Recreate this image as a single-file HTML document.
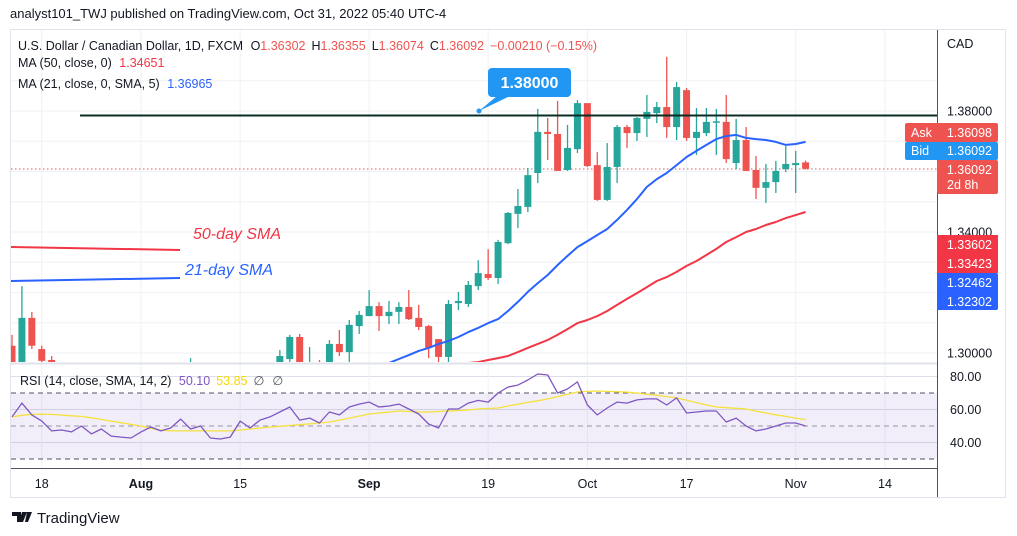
<!DOCTYPE html>
<html><head><meta charset="utf-8">
<style>
body{margin:0;background:#fff;width:1017px;height:536px;overflow:hidden;font-family:"Liberation Sans",sans-serif}
svg{position:absolute;left:0;top:0}
text{font-family:"Liberation Sans",sans-serif}
</style></head>
<body>
<svg id="chart" width="1017" height="536" viewBox="0 0 1017 536" xmlns="http://www.w3.org/2000/svg">
<text x="10" y="18" font-size="13" fill="#131722">analyst101_TWJ published on TradingView.com, Oct 31, 2022 05:40 UTC-4</text>
<rect x="10.5" y="29.5" width="995" height="468" fill="none" stroke="#e0e3eb"/>
<g id="grid"></g>
<rect x="11" y="393" width="926" height="66" fill="#7e57c2" fill-opacity="0.1"/>
<g id="rsiGuides"></g>
<line x1="11" y1="363.5" x2="937" y2="363.5" stroke="#e0e3eb" stroke-width="2"/>
<line x1="11" y1="468.5" x2="937" y2="468.5" stroke="#50535e"/>
<line x1="937.5" y1="30" x2="937.5" y2="497" stroke="#50535e"/>
<defs>
<clipPath id="mainClip"><rect x="11" y="30" width="926" height="332"/></clipPath>
<clipPath id="rsiClip"><rect x="11" y="365" width="926" height="102"/></clipPath>
</defs>
<line x1="11" y1="169" x2="937" y2="169" stroke="#ef5350" stroke-dasharray="1.5,2.5"/>
<g id="main" clip-path="url(#mainClip)"></g>
<g id="rsi" clip-path="url(#rsiClip)"></g>
<line x1="80" y1="115.5" x2="937" y2="115.5" stroke="#0b2b24" stroke-width="2"/>
<g>
<circle cx="479" cy="111" r="2.5" fill="#2196f3"/>
<path d="M479 111 L497 96 L510 96 Z" fill="#2196f3"/>
<rect x="488" y="68" width="83" height="29" rx="4" fill="#2196f3"/>
<text x="529.5" y="88" font-size="16" font-weight="bold" fill="#fff" text-anchor="middle">1.38000</text>
</g>
<line x1="11" y1="247" x2="180" y2="250" stroke="#f23645" stroke-width="2"/>
<text x="193" y="239" font-size="16" font-style="italic" fill="#f23645">50-day SMA</text>
<line x1="11" y1="281" x2="180" y2="278" stroke="#2962ff" stroke-width="2"/>
<text x="185" y="275" font-size="16" font-style="italic" fill="#2962ff">21-day SMA</text>
<g font-size="12.5">
<text x="18" y="50" fill="#131722">U.S. Dollar / Canadian Dollar, 1D, FXCM <tspan dx="4">O</tspan><tspan fill="#ef5350">1.36302</tspan><tspan dx="6">H</tspan><tspan fill="#ef5350">1.36355</tspan><tspan dx="6">L</tspan><tspan fill="#ef5350">1.36074</tspan><tspan dx="6">C</tspan><tspan fill="#ef5350">1.36092</tspan><tspan dx="6" fill="#ef5350">−0.00210 (−0.15%)</tspan></text>
<text x="18" y="67" fill="#131722">MA (50, close, 0) <tspan dx="4" fill="#f23645">1.34651</tspan></text>
<text x="18" y="88" fill="#131722">MA (21, close, 0, SMA, 5) <tspan dx="4" fill="#2962ff">1.36965</tspan></text>
<text x="20" y="385" fill="#131722">RSI (14, close, SMA, 14, 2) <tspan dx="4" fill="#7e57c2">50.10</tspan><tspan dx="6" fill="#f5d90a">53.85</tspan><tspan dx="6" fill="#50535e">∅</tspan><tspan dx="8" fill="#50535e">∅</tspan></text>
</g>
<g id="axis" font-size="12.5" fill="#131722"></g>
<g font-size="12.5">
<rect x="905" y="123" width="93" height="19" rx="2" fill="#ef5350"/>
<text x="911" y="137" fill="#fff">Ask</text><text x="992" y="137" fill="#fff" text-anchor="end">1.36098</text>
<rect x="905" y="142" width="93" height="18" rx="2" fill="#2196f3"/>
<text x="911" y="155" fill="#fff">Bid</text><text x="992" y="155" fill="#fff" text-anchor="end">1.36092</text>
<rect x="937" y="160" width="61" height="34" rx="2" fill="#ef5350"/>
<text x="992" y="174" fill="#fff" text-anchor="end">1.36092</text>
<text x="947" y="189" fill="#fff">2d 8h</text>
<rect x="937" y="235" width="61" height="38" fill="#f23645"/>
<text x="992" y="249" fill="#fff" text-anchor="end">1.33602</text>
<text x="992" y="268" fill="#fff" text-anchor="end">1.33423</text>
<rect x="937" y="273" width="61" height="37" rx="2" fill="#2962ff"/>
<text x="992" y="287" fill="#fff" text-anchor="end">1.32462</text>
<text x="992" y="306" fill="#fff" text-anchor="end">1.32302</text>
</g>
<g id="timeAxis" font-size="12.5" fill="#131722"></g>
<g>
<path d="M12 512 h9 v10 h-4 v-6 h-5z M22 512 h5 l-4 10 h-4z M27 512 h5 l-4 10 h-3z" fill="#131722"/>
<text x="37" y="523" font-size="15" fill="#131722">TradingView</text>
</g>
</svg>
<script>
const opens=[1.3024,1.2937,1.3116,1.3013,1.2977,1.2944,1.2905,1.2880,1.2910,1.2890,1.2870,1.2850,1.2880,1.2900,1.2870,1.2840,1.2810,1.2830,1.2870,1.2940,1.2900,1.2850,1.2820,1.2840,1.2860,1.2900,1.2890,1.2900,1.2980,1.3053,1.2920,1.2960,1.2940,1.3030,1.3003,1.3089,1.3122,1.3155,1.3122,1.3136,1.3152,1.3116,1.3089,1.3046,1.2987,1.3165,1.3162,1.3221,1.3261,1.3248,1.3363,1.3460,1.3483,1.3595,1.3731,1.3724,1.3605,1.3674,1.3826,1.3621,1.3506,1.3615,1.3747,1.3727,1.3774,1.3793,1.3813,1.3747,1.3869,1.3711,1.3727,1.3764,1.3764,1.3628,1.3704,1.3605,1.3546,1.3565,1.3608,1.3621,1.3630];
const highs=[1.3060,1.3221,1.3136,1.3024,1.2990,1.2955,1.2930,1.2920,1.2935,1.2915,1.2900,1.2890,1.2920,1.2930,1.2895,1.2870,1.2850,1.2890,1.2983,1.2960,1.2930,1.2880,1.2860,1.2880,1.2920,1.2940,1.2930,1.3010,1.3060,1.3063,1.3020,1.2977,1.3043,1.3076,1.3109,1.3139,1.3208,1.3168,1.3172,1.3168,1.3208,1.3159,1.3093,1.3046,1.3175,1.3202,1.3238,1.3307,1.3343,1.3374,1.3466,1.3542,1.3612,1.3807,1.3777,1.3833,1.3754,1.3836,1.3826,1.3664,1.3694,1.3754,1.3754,1.3780,1.3853,1.3830,1.3979,1.3896,1.3876,1.3810,1.3810,1.3807,1.3853,1.3774,1.3747,1.3651,1.3625,1.3635,1.3684,1.3668,1.3636];
const lows=[1.2918,1.2924,1.3013,1.2967,1.2927,1.2890,1.2870,1.2860,1.2880,1.2850,1.2830,1.2820,1.2850,1.2860,1.2820,1.2790,1.2780,1.2810,1.2850,1.2880,1.2830,1.2800,1.2790,1.2810,1.2840,1.2870,1.2860,1.2880,1.2970,1.2927,1.2900,1.2900,1.2920,1.2990,1.2970,1.3063,1.3122,1.3073,1.3096,1.3096,1.3109,1.3076,1.2983,1.2967,1.2967,1.3142,1.3152,1.3208,1.3241,1.3228,1.3360,1.3413,1.3466,1.3562,1.3638,1.3602,1.3602,1.3661,1.3615,1.3503,1.3503,1.3562,1.3678,1.3701,1.3714,1.3760,1.3711,1.3704,1.3701,1.3655,1.3717,1.3655,1.3628,1.3608,1.3602,1.3509,1.3496,1.3529,1.3598,1.3529,1.3607];
const closes=[1.2937,1.3116,1.3024,1.2974,1.2944,1.2905,1.2880,1.2910,1.2890,1.2870,1.2850,1.2880,1.2900,1.2870,1.2840,1.2810,1.2830,1.2870,1.2940,1.2900,1.2850,1.2820,1.2840,1.2860,1.2900,1.2890,1.2900,1.2990,1.3053,1.2937,1.2965,1.2930,1.3030,1.3003,1.3093,1.3126,1.3155,1.3122,1.3136,1.3152,1.3112,1.3086,1.3017,1.2987,1.3162,1.3172,1.3225,1.3264,1.3248,1.3367,1.3463,1.3486,1.3588,1.3731,1.3724,1.3602,1.3678,1.3826,1.3618,1.3506,1.3615,1.3747,1.3727,1.3777,1.3797,1.3813,1.3747,1.3879,1.3711,1.3731,1.3764,1.3766,1.3641,1.3704,1.3602,1.3546,1.3565,1.3602,1.3625,1.3628,1.3609];
const ma21Start=37;
const ma21=[1.2955,1.2967,1.2980,1.2993,1.3007,1.3017,1.3030,1.3040,1.3053,1.3069,1.3083,1.3099,1.3112,1.3139,1.3169,1.3202,1.3231,1.3258,1.3291,1.3321,1.3350,1.3370,1.3390,1.3410,1.3440,1.3473,1.3509,1.3549,1.3575,1.3595,1.3621,1.3648,1.3668,1.3688,1.3707,1.3717,1.3721,1.3711,1.3707,1.3704,1.3698,1.3688,1.3691,1.3698];
const ma50Start=45;
const ma50=[1.2963,1.2967,1.2970,1.2977,1.2983,1.2990,1.3003,1.3017,1.3030,1.3043,1.3060,1.3079,1.3099,1.3109,1.3122,1.3139,1.3159,1.3179,1.3198,1.3218,1.3238,1.3251,1.3268,1.3288,1.3304,1.3324,1.3344,1.3367,1.3383,1.3400,1.3410,1.3423,1.3433,1.3446,1.3456,1.3466];
const rsiVals=[55.5,63.9,56.7,53.0,47.0,47.6,46.4,50.0,45.2,48.2,43.9,43.3,42.7,46.4,49.4,47.0,48.8,54.2,48.2,50.0,42.7,42.1,43.3,53.0,48.8,53.6,55.5,58.5,61.5,53.6,54.8,51.8,58.5,56.7,61.5,63.3,64.5,61.5,62.1,63.3,60.3,57.3,51.2,48.8,60.3,60.3,63.9,65.5,64.5,70.0,73.6,74.8,77.9,81.5,80.9,70.0,72.4,76.7,62.7,56.7,60.9,64.5,63.9,65.8,66.4,66.4,62.7,67.0,57.9,58.5,59.1,59.1,52.4,54.8,50.0,47.0,48.2,50.0,51.8,51.8,50.0];
const rsiSma=[55.5,56.5,57.0,57.2,57.0,56.6,56.2,55.8,55.0,54.0,53.0,52.0,51.0,50.0,48.5,47.5,47.0,47.0,47.0,47.0,47.0,47.0,47.0,47.5,48.2,48.8,49.4,49.8,50.3,50.8,51.3,51.8,52.4,53.6,54.8,56.0,57.3,57.9,58.5,59.1,58.8,58.5,58.5,58.8,59.1,59.4,59.7,60.3,60.6,60.9,62.1,63.2,64.3,65.3,66.4,67.8,69.2,70.6,71.0,71.2,71.0,70.8,70.5,70.0,69.3,68.6,67.8,67.0,65.6,64.2,62.8,61.5,61.1,60.7,60.3,59.0,57.9,56.8,55.8,54.8,53.9];
const priceTicks=["1.38000","1.34000","1.30000"];
const priceTickVals=[1.38,1.34,1.30];
const priceGridVals=[1.39,1.38,1.37,1.36,1.35,1.34,1.33,1.32,1.31,1.30];
const rsiTicks=["80.00","60.00","40.00"];
const rsiTickVals=[80,60,40];
const timeLabels=["18","Aug","15","Sep","19","Oct","17","Nov","14"];
const timeIdx=[3,13,23,36,48,58,68,79,88];
const timeBold=[false,true,false,true,false,false,false,false,false];

const X=i=>12+i*9.92;
const Y=p=>111+(1.38-p)*3025;
const R=v=>426-(v-50)*1.65;
const NS="http://www.w3.org/2000/svg";
function mk(tag,attrs,parent){const e=document.createElementNS(NS,tag);for(const k in attrs)e.setAttribute(k,attrs[k]);parent.appendChild(e);return e;}
const grid=document.getElementById('grid');
priceGridVals.forEach(v=>{const l=mk('line',{x1:11,x2:937,y1:Y(v),y2:Y(v),stroke:'#eef1f5'},grid);

});
rsiTickVals.forEach(v=>{const l=mk('line',{x1:11,x2:937,y1:R(v),y2:R(v),stroke:'#dcdfe8'},grid);

});
timeIdx.forEach(i=>{const l=mk('line',{x1:X(i),x2:X(i),y1:30,y2:468,stroke:'#eef1f5'},grid);

});
const rg=document.getElementById('rsiGuides');
[70,50,30].forEach(v=>{const l=mk('line',{x1:11,x2:937,y1:R(v),y2:R(v),stroke:v==50?'#9598a1':'#50535e','stroke-dasharray':'5,4'},rg);

});
const main=document.getElementById('main');
for(let i=0;i<opens.length;i++){
 const up=closes[i]>=opens[i];const c=up?'#26a69a':'#ef5350';
 const g=mk('g',{},main);
 
 
 mk('line',{x1:X(i),x2:X(i),y1:Y(highs[i]),y2:Y(lows[i]),stroke:c,'stroke-width':1.3},g);
 const t=Y(Math.max(opens[i],closes[i])),b=Y(Math.min(opens[i],closes[i]));
 mk('rect',{x:X(i)-3.5,y:t,width:7,height:Math.max(1.5,b-t),fill:c},g);
}
function poly(vals,start,fy,color,w,parent,name){
 const pts=vals.map((v,k)=>X(start+k).toFixed(1)+','+fy(v).toFixed(1)).join(' ');
 const p=mk('polyline',{points:pts,fill:'none',stroke:color,'stroke-width':w,'stroke-linejoin':'round'},parent);
 
 
}
poly(ma50,ma50Start,Y,'#f23645',2,main,'ma50-line');
poly(ma21,ma21Start,Y,'#2962ff',2,main,'ma21-line');
const rsi=document.getElementById('rsi');
poly(rsiSma,0,R,'#f5e13a',1.3,rsi,'rsi-sma-line');
poly(rsiVals,0,R,'#7e57c2',1.3,rsi,'rsi-line');
const ax=document.getElementById('axis');
const cad=mk('text',{x:947,y:48},ax);cad.textContent='CAD';


priceTicks.forEach((t,k)=>{const e=mk('text',{x:947,y:Y(priceTickVals[k])+4.5},ax);e.textContent=t;

});
rsiTicks.forEach((t,k)=>{const e=mk('text',{x:950,y:R(rsiTickVals[k])+4.5},ax);e.textContent=t;

});
const ta=document.getElementById('timeAxis');
timeLabels.forEach((t,k)=>{const e=mk('text',{x:X(timeIdx[k]),y:488,'text-anchor':'middle','font-weight':timeBold[k]?'bold':'normal'},ta);e.textContent=t;

});
</script>
</body></html>
